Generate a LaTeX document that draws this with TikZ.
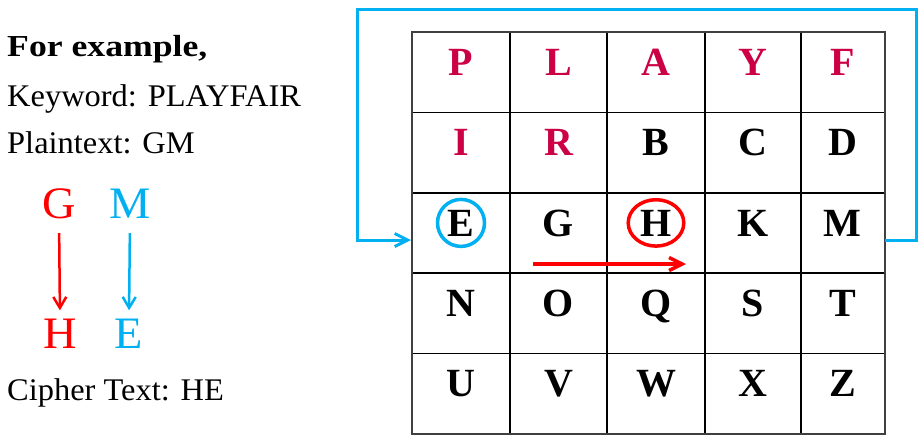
\documentclass[tikz,border=0pt]{standalone}
\usepackage{fontspec}
\usetikzlibrary{positioning,arrows.meta,shapes.geometric}
\setmainfont{Liberation Serif}
\newfontfamily\headfont[FakeStretch=1.17]{Liberation Serif}
\newfontfamily\notefont[FakeStretch=1.03]{Liberation Serif}

\definecolor{keyred}{RGB}{204,0,68}
\definecolor{skyblue}{RGB}{0,176,240}
\definecolor{bordergray}{RGB}{64,64,64}

\tikzset{
  cell/.style={anchor=base, inner sep=0pt, font=\fontsize{40}{40}\selectfont\bfseries},
  keycell/.style={cell, text=keyred},
  line/.style={anchor=base west, inner sep=0pt, font=\fontsize{31.5}{31.5}\selectfont\notefont},
  pair/.style={anchor=base, inner sep=0pt, font=\fontsize{45}{45}\selectfont\notefont},
  barb/.style={-{Straight Barb[length=#1, width=13pt]}},
}

\begin{document}
\begin{tikzpicture}[x=1pt, y=-1pt]
\useasboundingbox (0,0) rectangle (921,440);

% left side
\node[line, font=\fontsize{30.5}{30.5}\selectfont\headfont\bfseries] (head) at (7,56) {For example,};
\node[line] (key) at (7,106) {Keyword: PLAYFAIR};
\node[line] (plain) at (7,153) {Plaintext: GM};
\node[pair, text=red] (pG) at (59,218) {G};
\node[pair, text=skyblue] (pM) at (130,218) {M};
\node[pair, text=red] (cH) at (60,348) {H};
\node[pair, text=skyblue] (cE) at (129,348) {E};
\node[line] (cipher) at (7,400) {Cipher Text: HE};

\draw[red, line width=2.5pt, barb=11pt, shorten <=15pt, shorten >=8pt] (pG.base) -- (cH.north);
\draw[skyblue, line width=2.5pt, barb=11pt, shorten <=15pt, shorten >=8pt] (pM.base) -- (cE.north);

% the 5x5 table
\foreach \cx in {510,607,705,801}
  \draw[line width=1.6pt] (\cx,32) -- (\cx,434);
\foreach \ry in {112.5,193,273,353.5}
  \draw[line width=1.6pt] (412,\ry) -- (885,\ry);
\draw[bordergray, line width=2.6pt] (412,32) rectangle (885,434);

\foreach \ch/\cx in {P/461,L/558.5,A/656,Y/753,F/842.5}
  \node[keycell] (\ch) at (\cx,75) {\ch};
\foreach \ch/\cx in {I/461,R/558.5}
  \node[keycell] (\ch) at (\cx,155.5) {\ch};
\foreach \ch/\cx in {B/656,C/753,D/842.5}
  \node[cell] (\ch) at (\cx,155.5) {\ch};
\foreach \ch/\cx in {E/461,G/558.5,H/656,K/753,M/842.5}
  \node[cell] (\ch) at (\cx,236) {\ch};
\foreach \ch/\cx in {N/461,O/558.5,Q/656,S/753,T/842.5}
  \node[cell] (\ch) at (\cx,316.5) {\ch};
\foreach \ch/\cx in {U/461,V/558.5,W/656,X/753,Z/842.5}
  \node[cell] (\ch) at (\cx,396.5) {\ch};

% rings and the shift inside the row
\node[draw=skyblue, line width=3.5pt, circle, minimum size=47pt, inner sep=0pt] (ringE) at (E.center) {};
\node[draw=red, line width=3.5pt, ellipse, minimum width=55.6pt, minimum height=46.4pt, inner sep=0pt] (ringH) at (H.center) {};

\coordinate (shiftA) at (533,264);
\coordinate (shiftB) at (686,264);
\draw[red, line width=3.5pt, barb=13pt] (shiftA) -- (shiftB);

% wrap around from the last column to the first
\coordinate (exitM) at (885,240);
\coordinate (topR) at (916,9);
\coordinate (topL) at (357,9);
\coordinate (enterE) at (411,240);
\draw[skyblue, line width=3pt, barb=13pt] (exitM) -| (topR) -- (topL) |- (enterE);

\end{tikzpicture}
\end{document}
